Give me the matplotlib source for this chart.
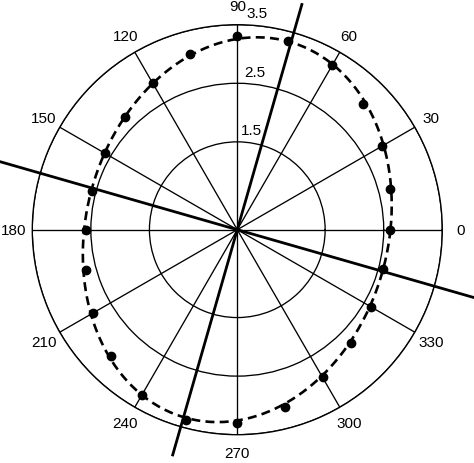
import numpy as np
import matplotlib
matplotlib.use('Agg')
import matplotlib.pyplot as plt

plt.rcParams['font.family'] = ['Liberation Sans', 'DejaVu Sans']

# measured points (degrees, radius)
angles_deg = [0, 15, 30, 45, 60, 75, 90, 105, 120, 135, 150, 165,
              180, 195, 210, 225, 240, 255, 270, 285, 300, 315, 330, 345]
radii = [2.61, 2.70, 2.85, 3.04, 3.24, 3.34, 3.30, 3.11, 2.89, 2.72, 2.61, 2.56,
         2.59, 2.68, 2.84, 3.05, 3.26, 3.36, 3.30, 3.13, 2.91, 2.74, 2.63, 2.58]

# fitted ellipse (dashed)
ell_major = 3.33
ell_minor = 2.58
ell_angle = 75

# principal axes (thick lines)
axis_angles = [74, 164]
axis_lengths = [4.0, 4.2]

theta_ticks = [0, 30, 60, 90, 120, 150, 180, 210, 240, 270, 300, 330]
r_ticks = [1.5, 2.5, 3.5]
r_max = 3.5

fig = plt.figure(figsize=(4.74, 4.64), dpi=100)
ax = fig.add_axes([0.0681, 0.061, 0.865, 0.8836], projection='polar')
ax.set_ylim(0, r_max)
ax.set_thetagrids(theta_ticks, labels=[''] * len(theta_ticks))
ax.set_rticks(r_ticks)
ax.set_yticklabels([])
ax.grid(True, color='black', lw=0.95, ls='-')
ax.spines['polar'].set_color('black')
ax.spines['polar'].set_linewidth(1.0)
ax.tick_params(length=0)

# dashed ellipse
t = np.radians(np.arange(0, 361, 1))
d = t - np.radians(ell_angle)
r_ell = ell_major * ell_minor / np.sqrt((ell_minor * np.cos(d)) ** 2 + (ell_major * np.sin(d)) ** 2)
ax.plot(t, r_ell, color='black', lw=1.9, ls=(0, (3.4, 2.0)), zorder=4)

# data points
ax.plot(np.radians(angles_deg), radii, 'o', color='black', ms=6, zorder=5)

# axes lines through centre
for a, L in zip(axis_angles, axis_lengths):
    th = np.radians([a + 180, a + 180, a, a])
    ax.plot(th, [L, 0, 0, L], color='black', lw=2.0, clip_on=False, zorder=6)

# angle labels
for tk in theta_ticks:
    ax.text(np.radians(tk), 3.82, str(tk), ha='center', va='center',
            fontsize=11, clip_on=False)

# radial labels
for rv in r_ticks:
    ax.text(np.radians(87.5), rv + 0.08, str(rv), ha='left', va='bottom',
            fontsize=11, clip_on=False)

fig.savefig('out.png', dpi=100)
